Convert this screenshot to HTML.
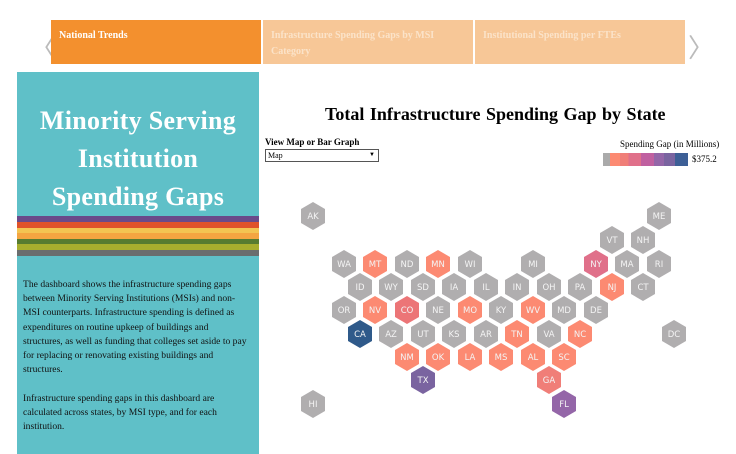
<!DOCTYPE html>
<html><head><meta charset="utf-8"><style>
body{margin:0;width:736px;height:454px;overflow:hidden;background:#fff;font-family:"Liberation Serif",serif;position:relative}
.tab{position:absolute;top:20px;height:44px;width:210px;color:#fff;font-size:10px;font-weight:bold;padding:8px 8px;box-sizing:border-box;line-height:16px}
#left{position:absolute;left:17px;top:72px;width:242px;height:382px;background:#5fc0c8}
#left h1{margin:0;position:absolute;top:30px;left:0;width:242px;text-align:center;color:#fff;font-size:26px;line-height:38px;font-weight:bold;letter-spacing:0.3px}
.st{position:absolute;left:0;width:242px}
#txt{position:absolute;left:6px;top:206px;width:236px;font-size:9.6px;line-height:14.2px;color:#111;white-space:nowrap}
svg text{font-family:"DejaVu Sans",sans-serif;font-size:8.5px;fill:#f4f4f4;text-anchor:middle}
</style></head><body>
<div style="position:absolute;left:30px;top:28px;color:#bbb;font-size:26px;font-family:'DejaVu Sans'">&#x2329;</div>
<div style="position:absolute;left:688px;top:28px;color:#bbb;font-size:26px;font-family:'DejaVu Sans'">&#x232A;</div>
<div class="tab" style="left:51px;background:#f3902e">National Trends</div>
<div class="tab" style="left:263px;background:#f7c797;color:#fbe3c9">Infrastructure Spending Gaps by MSI Category</div>
<div class="tab" style="left:475px;background:#f7c797;color:#fbe3c9">Institutional Spending per FTEs</div>
<div id="left">
<h1>Minority Serving<br>Institution<br>Spending Gaps</h1>
<div class="st" style="top:144px;height:6px;background:#6a4a8a"></div>
<div class="st" style="top:150px;height:6px;background:#e0522a"></div>
<div class="st" style="top:156px;height:5px;background:#f3c452"></div>
<div class="st" style="top:161px;height:6px;background:#f4a541"></div>
<div class="st" style="top:167px;height:5px;background:#577c30"></div>
<div class="st" style="top:172px;height:6px;background:#a7ae2e"></div>
<div class="st" style="top:178px;height:6px;background:#6a6d6e"></div>
<div id="txt">The dashboard shows the infrastructure spending gaps<br>between Minority Serving Institutions (MSIs) and non-<br>MSI counterparts. Infrastructure spending is defined as<br>expenditures on routine upkeep of buildings and<br>structures, as well as funding that colleges set aside to pay<br>for replacing or renovating existing buildings and<br>structures.<br><br>Infrastructure spending gaps in this dashboard are<br>calculated across states, by MSI type, and for each<br>institution.</div>
</div>
<div style="position:absolute;left:325px;top:104px;font-size:18px;font-weight:bold;word-spacing:1px">Total Infrastructure Spending Gap by State</div>
<div style="position:absolute;left:265px;top:137px;font-size:9px;font-weight:bold">View Map or Bar Graph</div>
<div style="position:absolute;left:265px;top:149px;width:114px;height:13px;border:1px solid #555;box-sizing:border-box;font-size:8px;padding-left:2px;line-height:11px">Map<span style="position:absolute;right:3px;font-size:6px">&#9660;</span></div>
<div style="position:absolute;left:620px;top:139px;font-size:9px">Spending Gap (in Millions)</div>
<div style="position:absolute;left:603px;top:153px;width:85px;height:13px;background:linear-gradient(90deg,#aaa 0 8%,#fc8a72 8% 20%,#f07e78 20% 30%,#e0708a 30% 45%,#c060a0 45% 60%,#9466a8 60% 72%,#7a64a0 72% 85%,#3d5f96 85% 100%)"></div>
<div style="position:absolute;left:692px;top:154px;font-size:9px">$375.2</div>
<svg style="position:absolute;left:0;top:0" width="736" height="454">
<g transform="translate(313,216)"><polygon points="0,-14 12,-7 12,7 0,14 -12,7 -12,-7" fill="#b0aeaf"/><text y="3">AK</text></g>
<g transform="translate(659,216)"><polygon points="0,-14 12,-7 12,7 0,14 -12,7 -12,-7" fill="#b0aeaf"/><text y="3">ME</text></g>
<g transform="translate(612,240)"><polygon points="0,-14 12,-7 12,7 0,14 -12,7 -12,-7" fill="#b0aeaf"/><text y="3">VT</text></g>
<g transform="translate(643,240)"><polygon points="0,-14 12,-7 12,7 0,14 -12,7 -12,-7" fill="#b0aeaf"/><text y="3">NH</text></g>
<g transform="translate(344,264)"><polygon points="0,-14 12,-7 12,7 0,14 -12,7 -12,-7" fill="#b0aeaf"/><text y="3">WA</text></g>
<g transform="translate(375,264)"><polygon points="0,-14 12,-7 12,7 0,14 -12,7 -12,-7" fill="#fc8a72"/><text y="3">MT</text></g>
<g transform="translate(407,264)"><polygon points="0,-14 12,-7 12,7 0,14 -12,7 -12,-7" fill="#b0aeaf"/><text y="3">ND</text></g>
<g transform="translate(438,264)"><polygon points="0,-14 12,-7 12,7 0,14 -12,7 -12,-7" fill="#fc8a72"/><text y="3">MN</text></g>
<g transform="translate(470,264)"><polygon points="0,-14 12,-7 12,7 0,14 -12,7 -12,-7" fill="#b0aeaf"/><text y="3">WI</text></g>
<g transform="translate(533,264)"><polygon points="0,-14 12,-7 12,7 0,14 -12,7 -12,-7" fill="#b0aeaf"/><text y="3">MI</text></g>
<g transform="translate(596,264)"><polygon points="0,-14 12,-7 12,7 0,14 -12,7 -12,-7" fill="#e0708a"/><text y="3">NY</text></g>
<g transform="translate(627,264)"><polygon points="0,-14 12,-7 12,7 0,14 -12,7 -12,-7" fill="#b0aeaf"/><text y="3">MA</text></g>
<g transform="translate(659,264)"><polygon points="0,-14 12,-7 12,7 0,14 -12,7 -12,-7" fill="#b0aeaf"/><text y="3">RI</text></g>
<g transform="translate(360,287)"><polygon points="0,-14 12,-7 12,7 0,14 -12,7 -12,-7" fill="#b0aeaf"/><text y="3">ID</text></g>
<g transform="translate(391,287)"><polygon points="0,-14 12,-7 12,7 0,14 -12,7 -12,-7" fill="#b0aeaf"/><text y="3">WY</text></g>
<g transform="translate(423,287)"><polygon points="0,-14 12,-7 12,7 0,14 -12,7 -12,-7" fill="#b0aeaf"/><text y="3">SD</text></g>
<g transform="translate(454,287)"><polygon points="0,-14 12,-7 12,7 0,14 -12,7 -12,-7" fill="#b0aeaf"/><text y="3">IA</text></g>
<g transform="translate(486,287)"><polygon points="0,-14 12,-7 12,7 0,14 -12,7 -12,-7" fill="#b0aeaf"/><text y="3">IL</text></g>
<g transform="translate(517,287)"><polygon points="0,-14 12,-7 12,7 0,14 -12,7 -12,-7" fill="#b0aeaf"/><text y="3">IN</text></g>
<g transform="translate(549,287)"><polygon points="0,-14 12,-7 12,7 0,14 -12,7 -12,-7" fill="#b0aeaf"/><text y="3">OH</text></g>
<g transform="translate(580,287)"><polygon points="0,-14 12,-7 12,7 0,14 -12,7 -12,-7" fill="#b0aeaf"/><text y="3">PA</text></g>
<g transform="translate(612,287)"><polygon points="0,-14 12,-7 12,7 0,14 -12,7 -12,-7" fill="#fc8a72"/><text y="3">NJ</text></g>
<g transform="translate(643,287)"><polygon points="0,-14 12,-7 12,7 0,14 -12,7 -12,-7" fill="#b0aeaf"/><text y="3">CT</text></g>
<g transform="translate(344,310)"><polygon points="0,-14 12,-7 12,7 0,14 -12,7 -12,-7" fill="#b0aeaf"/><text y="3">OR</text></g>
<g transform="translate(375,310)"><polygon points="0,-14 12,-7 12,7 0,14 -12,7 -12,-7" fill="#fc8a72"/><text y="3">NV</text></g>
<g transform="translate(407,310)"><polygon points="0,-14 12,-7 12,7 0,14 -12,7 -12,-7" fill="#ec7577"/><text y="3">CO</text></g>
<g transform="translate(438,310)"><polygon points="0,-14 12,-7 12,7 0,14 -12,7 -12,-7" fill="#b0aeaf"/><text y="3">NE</text></g>
<g transform="translate(470,310)"><polygon points="0,-14 12,-7 12,7 0,14 -12,7 -12,-7" fill="#fc8a72"/><text y="3">MO</text></g>
<g transform="translate(501,310)"><polygon points="0,-14 12,-7 12,7 0,14 -12,7 -12,-7" fill="#b0aeaf"/><text y="3">KY</text></g>
<g transform="translate(533,310)"><polygon points="0,-14 12,-7 12,7 0,14 -12,7 -12,-7" fill="#fc8a72"/><text y="3">WV</text></g>
<g transform="translate(564,310)"><polygon points="0,-14 12,-7 12,7 0,14 -12,7 -12,-7" fill="#b0aeaf"/><text y="3">MD</text></g>
<g transform="translate(596,310)"><polygon points="0,-14 12,-7 12,7 0,14 -12,7 -12,-7" fill="#b0aeaf"/><text y="3">DE</text></g>
<g transform="translate(360,334)"><polygon points="0,-14 12,-7 12,7 0,14 -12,7 -12,-7" fill="#2f5a8a"/><text y="3">CA</text></g>
<g transform="translate(391,334)"><polygon points="0,-14 12,-7 12,7 0,14 -12,7 -12,-7" fill="#b0aeaf"/><text y="3">AZ</text></g>
<g transform="translate(423,334)"><polygon points="0,-14 12,-7 12,7 0,14 -12,7 -12,-7" fill="#b0aeaf"/><text y="3">UT</text></g>
<g transform="translate(454,334)"><polygon points="0,-14 12,-7 12,7 0,14 -12,7 -12,-7" fill="#b0aeaf"/><text y="3">KS</text></g>
<g transform="translate(486,334)"><polygon points="0,-14 12,-7 12,7 0,14 -12,7 -12,-7" fill="#b0aeaf"/><text y="3">AR</text></g>
<g transform="translate(517,334)"><polygon points="0,-14 12,-7 12,7 0,14 -12,7 -12,-7" fill="#fc8a72"/><text y="3">TN</text></g>
<g transform="translate(549,334)"><polygon points="0,-14 12,-7 12,7 0,14 -12,7 -12,-7" fill="#b0aeaf"/><text y="3">VA</text></g>
<g transform="translate(580,334)"><polygon points="0,-14 12,-7 12,7 0,14 -12,7 -12,-7" fill="#fc8a72"/><text y="3">NC</text></g>
<g transform="translate(674,334)"><polygon points="0,-14 12,-7 12,7 0,14 -12,7 -12,-7" fill="#b0aeaf"/><text y="3">DC</text></g>
<g transform="translate(407,357)"><polygon points="0,-14 12,-7 12,7 0,14 -12,7 -12,-7" fill="#fc8a72"/><text y="3">NM</text></g>
<g transform="translate(438,357)"><polygon points="0,-14 12,-7 12,7 0,14 -12,7 -12,-7" fill="#fc8a72"/><text y="3">OK</text></g>
<g transform="translate(470,357)"><polygon points="0,-14 12,-7 12,7 0,14 -12,7 -12,-7" fill="#fc8a72"/><text y="3">LA</text></g>
<g transform="translate(501,357)"><polygon points="0,-14 12,-7 12,7 0,14 -12,7 -12,-7" fill="#fc8a72"/><text y="3">MS</text></g>
<g transform="translate(533,357)"><polygon points="0,-14 12,-7 12,7 0,14 -12,7 -12,-7" fill="#fc8a72"/><text y="3">AL</text></g>
<g transform="translate(564,357)"><polygon points="0,-14 12,-7 12,7 0,14 -12,7 -12,-7" fill="#fc8a72"/><text y="3">SC</text></g>
<g transform="translate(423,380)"><polygon points="0,-14 12,-7 12,7 0,14 -12,7 -12,-7" fill="#7a64a0"/><text y="3">TX</text></g>
<g transform="translate(549,380)"><polygon points="0,-14 12,-7 12,7 0,14 -12,7 -12,-7" fill="#f07e78"/><text y="3">GA</text></g>
<g transform="translate(313,404)"><polygon points="0,-14 12,-7 12,7 0,14 -12,7 -12,-7" fill="#b0aeaf"/><text y="3">HI</text></g>
<g transform="translate(564,404)"><polygon points="0,-14 12,-7 12,7 0,14 -12,7 -12,-7" fill="#9466a8"/><text y="3">FL</text></g>
</svg>
</body></html>
